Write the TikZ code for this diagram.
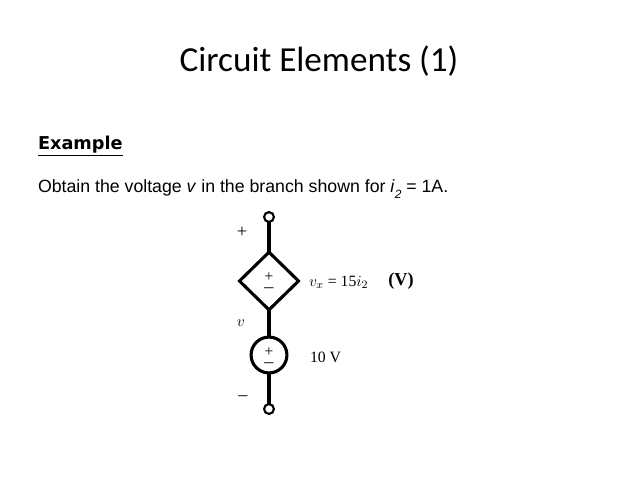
\documentclass[tikz,border=0pt]{standalone}
\usepackage{fontspec}
\setmainfont{Liberation Serif}
\newfontfamily\titlefont{Carlito}
\newfontfamily\bodyfont{Liberation Sans}
\newfontfamily\headfont{DejaVu Sans}
\usetikzlibrary{shapes.geometric}

\begin{document}
\begin{tikzpicture}[x=0.025cm,y=-0.025cm]
\tikzstyle{every node}=[inner sep=0pt,outer sep=0pt]
\tikzstyle{wire}=[draw,line width=2.2pt]
\tikzstyle{terminal}=[circle,draw,line width=1.5pt,minimum size=7pt,fill=white]
\tikzstyle{polarity}=[font=\fontsize{11}{11}\selectfont]
\tikzstyle{tag}=[font=\fontsize{11.2}{12}\selectfont]
\tikzstyle{sign}=[font=\fontsize{13}{13}\selectfont]

\useasboundingbox (0,0) rectangle (638,478);

\node[font=\titlefont\fontsize{25}{30}\selectfont] at (319,61) (title) {Circuit Elements (1)};
\node[anchor=west,font=\headfont\bfseries\fontsize{12.6}{15}\selectfont] at (38,146) (head) {\underline{Example}};
\node[anchor=west,font=\bodyfont\fontsize{12.6}{15}\selectfont] at (38,189) (task) {Obtain the voltage \textit{v} in the branch shown for \textit{i}\raisebox{-0.6ex}{\fontsize{8.5}{9}\selectfont\textit{2}} = 1A.};

\node[terminal] at (269,217) (top) {};
\node[diamond,wire,minimum width=42pt,minimum height=41pt] at (269,281) (dep) {};
\node[circle,wire,minimum size=25.5pt] at (269,355) (src) {};
\node[terminal] at (269,409) (bot) {};

\node[polarity] at (269,277) (depplus) {+};
\node[sign] at (269,290) (depminus) {–};
\node[polarity] at (269,352) (srcplus) {+};
\node[sign] at (269,365) (srcminus) {–};

\draw[wire] (top) -- (dep);
\draw[wire] (dep) -- (src);
\draw[wire] (src) -- (bot);

\node[sign] at (242,232) (plus) {+};
\node[tag] at (241,323) (volt) {$v$};
\node[sign] at (243,398) (minus) {–};
\node[tag,anchor=west] at (309,282) (vx) {$v_x$ = 15$i_2$};
\node[tag,font=\bfseries\fontsize{13}{14}\selectfont] at (401,281) (unit) {(V)};
\node[tag,anchor=west] at (310,357) (ten) {10 V};
\end{tikzpicture}
\end{document}
